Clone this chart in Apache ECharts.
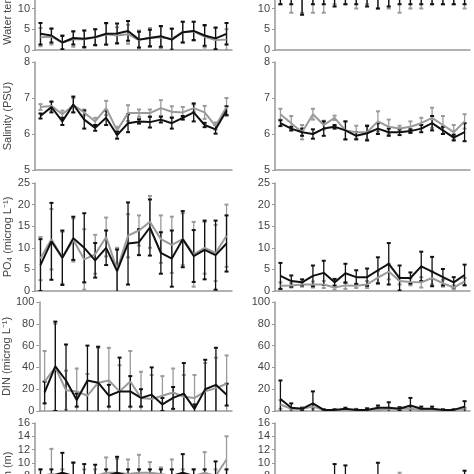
<!DOCTYPE html><html><head><meta charset="utf-8">
<script src="https://cdn.jsdelivr.net/npm/echarts@6/dist/echarts.min.js"></script>
<style>html,body{margin:0;background:#fff;overflow:hidden;width:474px;height:474px}#c{position:absolute;left:0;top:-80px;width:474px;height:640px}</style></head><body><div id="c"></div>
<script>
const categories = Array.from({length:18},(_,i)=>String(i+1));
// Water temperature
const tempLB=[3.9,3.5,1.8,2.9,2.7,3.1,3.9,4.0,4.6,2.5,2.9,3.3,2.5,4.3,4.6,3.5,2.8,3.9];
const tempLBsd=[2.6,1.7,1.6,1.6,2.0,1.9,2.6,2.4,2.4,1.9,2.0,2.5,2.6,2.5,2.2,2.5,2.6,2.6];
const tempLG=[3.1,3.2,1.8,2.6,2.6,3.0,3.8,3.5,3.8,2.4,3.0,3.0,2.7,4.3,4.5,3.2,2.4,2.5];
const tempLGsd=[2.2,1.9,1.8,1.8,2.1,2.0,2.6,2.0,2.3,2.3,2.3,2.6,2.5,2.5,2.3,2.6,2.9,2.5];
const tempRB=[16,16,16.5,16,16,15.5,16,16,15.5,15.5,15.5,16,16,16,16,16,16,16];
const tempRBsd=[5,5,8,5,5,5,5,5,5,5.5,5,5,5,5,5,5,5,5];
const tempRG=[15,15,15,15,15,15,15,15,15,15,15,15,15,15,15,15,15,15];
const tempRGsd=[4,6,6,6,6,4,4,5,4,5,5,6,5,5,4,4,4,5];
// Salinity
const salLB=[6.5,6.75,6.35,6.82,6.4,6.17,6.45,5.97,6.3,6.35,6.33,6.4,6.3,6.45,6.6,6.25,6.13,6.65];
const salLBsd=[0.07,0.15,0.1,0.22,0.25,0.08,0.2,0.1,0.25,0.06,0.15,0.08,0.15,0.05,0.25,0.06,0.12,0.12];
const salLG=[6.75,6.78,6.55,6.8,6.6,6.35,6.72,6.1,6.58,6.58,6.58,6.72,6.62,6.6,6.72,6.6,6.22,6.75];
const salLGsd=[0.08,0.12,0.1,0.2,0.08,0.1,0.2,0.1,0.22,0.1,0.1,0.22,0.15,0.15,0.1,0.18,0.1,0.25];
const salRB=[6.3,6.15,6.05,6.0,6.15,6.2,6.1,5.95,6.02,6.15,6.05,6.05,6.08,6.15,6.3,6.1,5.9,6.05];
const salRBsd=[0.08,0.05,0.1,0.13,0.2,0.05,0.25,0.1,0.2,0.15,0.1,0.08,0.05,0.1,0.2,0.1,0.08,0.25];
const salRG=[6.55,6.3,6.05,6.55,6.25,6.45,6.1,6.05,6.05,6.35,6.2,6.15,6.2,6.3,6.45,6.25,6.05,6.35];
const salRGsd=[0.15,0.2,0.2,0.15,0.12,0.06,0.25,0.18,0.2,0.28,0.2,0.08,0.15,0.15,0.28,0.25,0.2,0.2];
// PO4
const poLB=[6,11.5,7.7,12.2,10,7.1,10,4.6,11,11.3,14.7,8.8,7.5,12,8.1,9.5,8.3,11];
const poLBsd=[6,8.9,6.3,5,8,4,4,5,9.5,3,6.5,4.8,6.5,6.5,6,6.8,8,6.5];
const poLG=[7.5,12,7.7,11.8,7.3,8.5,12.5,5,12.8,14,16,12,10.7,12,8.5,10,8.8,12.8];
const poLGsd=[5,7,6,5,7,4.5,4.5,5,5,3.5,6,5.5,6.5,6,7.5,6,6.5,7.2];
const poRB=[3.5,2.3,2,3.5,4.2,2,4.1,3.2,3.2,4.8,6.3,3,3,5.7,4.5,3.2,2,3.7];
const poRBsd=[3,1.3,0.7,2.4,2.8,0.8,2.2,1.6,2,3,4.8,2.9,1.3,3.4,3.4,1.9,1.2,2.4];
const poRG=[1.2,1.3,1.5,1.5,1.5,0.8,1.3,1.2,1.5,3.1,4.5,2.3,2.1,2,3,1.8,0.8,2.2];
const poRGsd=[0.8,0.5,0.5,0.7,0.8,0.5,0.8,0.5,0.8,1.5,1.8,0.8,0.8,1.2,1.5,0.8,0.5,0.8];
// DIN
const dinLB=[17,41,28,10,28,26,14,18,18,12,15,6,12,16,2,20,24,15];
const dinLBsd=[10,41,33,6,32,33,10,31,14,8,25,6,10,28,4,27,34,10];
const dinLG=[27,40,19,18,14,26,28,18,27,12,11,14,17,13,12,18,21,25];
const dinLGsd=[28,40,18,21,20,32,30,24,28,24,22,18,22,20,21,26,28,26];
const dinRB=[11,3,2,7,1,1,2,1,1,3,3,2,5,2,2,1,1,4];
const dinRBsd=[17,4,1,11,0.5,0.5,1,0.5,1.5,2,5,1.5,7,2,2,0.5,0.5,5];
const dinRG=[6,2,2,4,1,1,1,1,1,1,2,2,2,1,1,1,1,2];
const dinRGsd=[4,1,1,2,0.5,0.5,0.5,1,0.5,1,1,1,1,0.5,0.5,0.5,0.5,1];
// Depth
const depLB=[8,8,8.5,8,7.5,7.5,8,8.5,8,8,8,8,8,8.5,8,8,8,8];
const depLBsd=[1,1,3,2,2.3,2.2,1,2.4,1,1,1,1,1,2.8,1,1,2.2,1];
const depLG=[8,8.3,8,8,8,8,8.5,8.5,8.3,8.5,8.5,8.3,8,8,8,8.5,8,10.5];
const depLGsd=[1,3.8,1,2.1,1,1,2.3,2.1,2.2,2.7,1.6,1,2.5,1,1,3.1,1,3.5];
const depRB=[7,7,7,7,7,8,8,7,7,8,7,7,7,7,7,7,7,7];
const depRBsd=[1,1,1,1,1,1.8,1.6,1,1,2,1,1,1,1,1,1,1,1.8];
const depRG=[7,7,7,7,7,7,7,7,7,7,7,7.5,7,7,7,7,7,7];
const depRGsd=[1,1,1,1,1,1,1,1,1,1,1,1,1,1,1,1,1,1];

const OFF=80;
const rows=[
 {name:'Water temperature (°C)',min:0,max:30,interval:5,top:-76,bottom:50,L:[tempLB,tempLBsd,tempLG,tempLGsd],R:[tempRB,tempRBsd,tempRG,tempRGsd]},
 {name:'Salinity (PSU)',min:5,max:8,interval:1,top:62,bottom:170,L:[salLB,salLBsd,salLG,salLGsd],R:[salRB,salRBsd,salRG,salRGsd]},
 {name:'PO₄ (microg L⁻¹)',min:0,max:25,interval:5,top:183,bottom:291,L:[poLB,poLBsd,poLG,poLGsd],R:[poRB,poRBsd,poRG,poRGsd]},
 {name:'DIN (microg L⁻¹)',min:0,max:100,interval:20,top:302,bottom:411,L:[dinLB,dinLBsd,dinLG,dinLGsd],R:[dinRB,dinRBsd,dinRG,dinRGsd]},
 {name:'Depth (m)',min:0,max:16,interval:2,top:423,bottom:529,L:[depLB,depLBsd,depLG,depLGsd],R:[depRB,depRBsd,depRG,depRGsd]}
];
const cols=[{left:35,right:232,key:'L'},{left:275,right:470,key:'R'}];
const grid=[],xAxis=[],yAxis=[],series=[];
const axCol='#999', txt='#444';
function errSeries(idx,mean,sd,color){
  return {type:'custom',xAxisIndex:idx,yAxisIndex:idx,clip:true,z:3,
    data:mean.map((m,i)=>[i,m-sd[i],m+sd[i]]),
    renderItem:(p,api)=>{const lo=api.coord([api.value(0),api.value(1)]),hi=api.coord([api.value(0),api.value(2)]);
      const s={stroke:color,lineWidth:1.3};
      return {type:'group',children:[
        {type:'line',shape:{x1:lo[0],y1:lo[1],x2:hi[0],y2:hi[1]},style:s},
        {type:'line',shape:{x1:hi[0]-2,y1:hi[1],x2:hi[0]+2,y2:hi[1]},style:{stroke:color,lineWidth:2}},
        {type:'line',shape:{x1:lo[0]-2,y1:lo[1],x2:lo[0]+2,y2:lo[1]},style:{stroke:color,lineWidth:2}}]};}};
}
rows.forEach((r,ri)=>{cols.forEach((c,ci)=>{
  const idx=grid.length;
  grid.push({left:c.left,width:c.right-c.left,top:r.top+OFF,height:r.bottom-r.top});
  xAxis.push({gridIndex:idx,type:'category',data:categories,boundaryGap:true,
    axisLine:{lineStyle:{color:axCol,width:1.5}},axisTick:{inside:false,length:3,interval:0,lineStyle:{color:axCol}},axisLabel:{show:false}});
  yAxis.push({gridIndex:idx,type:'value',min:r.min,max:r.max,interval:r.interval,
    name:ci===0?r.name:'',nameLocation:'middle',nameGap:22,nameTextStyle:{color:txt,fontSize:11,fontFamily:'Liberation Sans'},
    splitLine:{show:false},axisLine:{show:true,lineStyle:{color:axCol,width:1.5}},axisTick:{show:true,length:3,lineStyle:{color:axCol}},
    axisLabel:{color:txt,fontSize:11,fontFamily:'Liberation Sans',margin:5}});
  const d=r[c.key];
  series.push(errSeries(idx,d[2],d[3],'#9a9a9a'));
  series.push(errSeries(idx,d[0],d[1],'#111'));
  series.push({type:'line',xAxisIndex:idx,yAxisIndex:idx,data:d[2],symbol:'none',lineStyle:{color:'#9a9a9a',width:2},z:4});
  series.push({type:'line',xAxisIndex:idx,yAxisIndex:idx,data:d[0],symbol:'none',lineStyle:{color:'#111',width:2},z:5});
});});
const chart=echarts.init(document.getElementById('c'));
chart.setOption({animation:false,grid,xAxis,yAxis,series});
</script></body></html>
